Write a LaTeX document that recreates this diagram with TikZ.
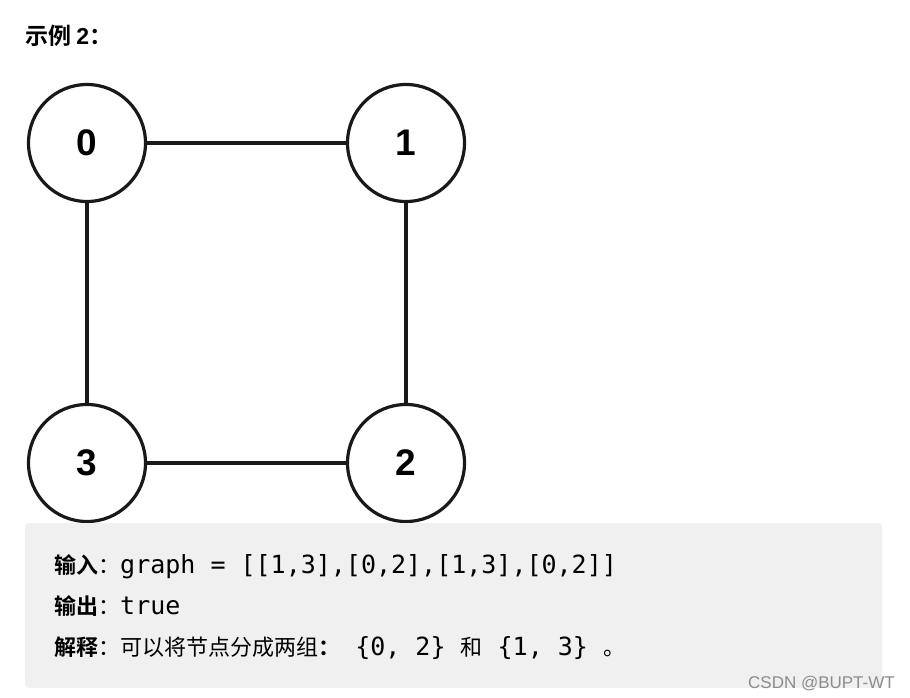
\documentclass[tikz,border=0pt]{standalone}
\usepackage{fontspec}
\setmainfont{Liberation Sans}
\setmonofont{DejaVu Sans Mono}
\newfontfamily\cjk{Noto Sans CJK SC}
\newfontfamily\cjkb{Noto Sans CJK SC Bold}
\newcommand\mono{\fontsize{25}{26}\selectfont\ttfamily}
\begin{document}
\begin{tikzpicture}[x=1pt,y=-1pt,
  vert/.style={circle,draw=black!90,line width=3.2pt,minimum size=117pt,inner sep=0pt,font=\fontsize{37}{37}\selectfont\bfseries},
  edge/.style={line width=3.2pt,draw=black!90},
  txt/.style={anchor=base west,inner sep=0pt,font=\fontsize{22}{24}\selectfont}]
\useasboundingbox (0,0) rectangle (910,698);
\fill[white] (0,0) rectangle (910,698);
\node[txt,anchor=base west,font=\fontsize{23}{24}\selectfont] (title) at (25,45) {\cjkb 示例 \fontspec{Liberation Sans Bold}2\cjkb ：};
\node[vert] (n0) at (87,143) {0};
\node[vert] (n1) at (406,143) {1};
\node[vert] (n2) at (406,463) {2};
\node[vert] (n3) at (87,463) {3};
\draw[edge] (n0) -- (n1);
\draw[edge] (n1) -- (n2);
\draw[edge] (n2) -- (n3);
\draw[edge] (n3) -- (n0);
\fill[black!6,rounded corners=4pt] (25,523) rectangle (882,688);
\node[txt] (l1) at (54,573) {{\cjkb 输入}{\cjk ：}\mono graph = [[1,3],[0,2],[1,3],[0,2]]};
\node[txt] (l2) at (54,614) {{\cjkb 输出}{\cjk ：}\mono true};
\node[txt] (l3) at (54,655) {{\cjkb 解释}{\cjk ：可以将节点分成两组}\cjkb ：{\mono\ \{0, 2\} }{\cjk 和}{\mono\ \{1, 3\} }{\cjk 。}};
\node[anchor=base east,inner sep=0pt,text=black!45,font=\fontsize{17}{18}\selectfont] (wm) at (895,688) {CSDN @BUPT-WT};
\end{tikzpicture}
\end{document}
